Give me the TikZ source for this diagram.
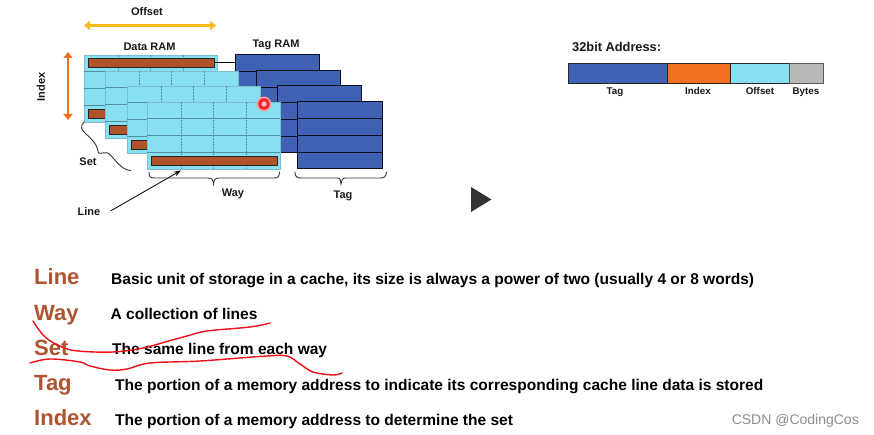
\documentclass[tikz,border=0pt]{standalone}
\usepackage{fontspec}
\setmainfont{Liberation Sans}
\usetikzlibrary{arrows.meta,calc}
\definecolor{cyanfill}{HTML}{88DFF0}
\definecolor{cyanedge}{HTML}{7CBFD2}
\definecolor{gridc}{HTML}{4F8FA2}
\definecolor{tagblue}{HTML}{3F62B5}
\definecolor{barbrown}{HTML}{B0532A}
\definecolor{headc}{HTML}{AD5430}
\definecolor{yellowa}{HTML}{F7BC1B}
\definecolor{orangea}{HTML}{F36F21}
\definecolor{graybyte}{HTML}{B8B6B8}
\definecolor{inkred}{HTML}{F01018}
\tikzset{
  panel/.style={draw=cyanedge,line width=0.9pt,fill=cyanfill,minimum width=133pt,minimum height=67pt,anchor=north west,inner sep=0pt,outer sep=0pt},
  tagbox/.style={draw=black!85!tagblue,line width=1pt,fill=tagblue,minimum width=84.5pt,minimum height=67pt,anchor=north west,inner sep=0pt,outer sep=0pt},
  linebar/.style={draw=black!85,line width=0.9pt,fill=barbrown,minimum width=126pt,minimum height=9.5pt,anchor=north west,inner sep=0pt,outer sep=0pt},
  seg/.style={draw=black!85,line width=0.9pt,minimum height=19.5pt,anchor=north west,inner sep=0pt,outer sep=0pt},
  small/.style={font=\fontsize{11}{13}\bfseries\selectfont,inner sep=0pt,text=black!90},
  addr/.style={font=\fontsize{9.8}{12}\bfseries\selectfont,inner sep=0pt,text=black!90,anchor=base},
  head/.style={font=\fontsize{22}{26}\bfseries\selectfont,inner sep=0pt,anchor=base west,text=headc},
  body/.style={font=\fontsize{15.53}{18}\bfseries\selectfont,inner sep=0pt,anchor=base west,text=black},
  brace/.style={draw=black!80,line width=0.9pt,line cap=round},
  ink/.style={draw=inkred,line width=1.4pt,line cap=round,line join=round},
  dbl/.style={line width=2.4pt,{Triangle[length=6pt,width=9pt]}-{Triangle[length=6pt,width=9pt]}}
}
\begin{document}
\begin{tikzpicture}[x=1pt,y=-1pt]
\useasboundingbox (0,0) rectangle (874,435);
\fill[white] (0,0) rectangle (874,435);
% stacked RAM panels, back to front
\foreach \i/\dx/\dy/\tx in {1/84/55/235,2/105/71/256,3/127/86/277,4/147/102/297.5}{
  \node[tagbox] (t\i) at (\tx,\dy) {};
  \foreach \r in {1,2,3}
    \draw[black!85!tagblue,line width=1pt] ($(t\i.north west)+(0,\r*16.75)$) -- ($(t\i.north east)+(0,\r*16.75)$);
  \node[panel] (d\i) at (\dx,\dy) {};
  \foreach \r in {1,2,3}
    \draw[gridc,line width=0.6pt] ($(d\i.north west)+(0,\r*16.75)$) -- ($(d\i.north east)+(0,\r*16.75)$);
  \foreach \c in {34,66,99}
    \draw[gridc,line width=0.5pt,densely dotted] ($(d\i.north west)+(\c,0)$) -- ($(d\i.south west)+(\c,0)$);
  \node[linebar] (b\i) at ($(d\i.south west)+(4,-13)$) {};
}
\node[linebar] (top) at (88,58) {};
\draw[black,line width=0.8pt] (top.east) -- (t1.west |- top.east);
% pointer dot
\fill[inkred!40] (264,104) circle (7.4);
\fill[inkred!90] (264,104) circle (5.8);
\fill[white!75!red] (264,104) circle (2.6);
% arrows and labels
\coordinate (oa) at (84,25.5); \coordinate (ob) at (216,25.5);
\draw[dbl,yellowa] (oa) -- (ob);
\coordinate (ia) at (68,52); \coordinate (ib) at (68,120);
\draw[dbl,orangea] (ia) -- (ib);
\node[small] (lOffset) at (147,12) {Offset};
\node[small] (lData) at (149.5,46.5) {Data RAM};
\node[small] (lTag) at (276,45) {Tag RAM};
\node[small,rotate=90] (lIndex) at (41,87) {Index};
\node[small] (lSet) at (88,162) {Set};
\node[small] (lWay) at (233,194) {Way};
\node[small] (lTagb) at (343,195.5) {Tag};
\node[small] (lLine) at (89,212) {Line};
\coordinate (lineTip) at (181,170.5);
\draw[black,line width=0.8pt,-{Stealth[length=7pt,width=5pt]}] (lLine.east)++(10,-1) -- (lineTip);
% braces
\draw[brace] (149,172) .. controls (149,177) and (150,178) .. (155,178) -- (208,178) .. controls (212,178) and (213,180) .. (213.5,184) .. controls (214,180) and (215,178) .. (219,178) -- (274,178) .. controls (278,178) and (279,177) .. (279.5,172);
\draw[brace] (295,172) .. controls (295,177) and (297,178) .. (302,178) -- (337,178) .. controls (341,178) and (340,180) .. (341,184) .. controls (342,180) and (342,178) .. (346,178) -- (380,178) .. controls (384,178) and (386,177) .. (386.5,172);
\draw[brace] (84,122) .. controls (80,126) and (81,130) .. (86,134) .. controls (92,139) and (97,144) .. (98.5,153) .. controls (100,154) and (104,152) .. (108,153) .. controls (114,157) and (120,170) .. (131,170.5);
% address bar
\node[small,anchor=base west,font=\fontsize{12.8}{15}\bfseries\selectfont] (aT) at (572,51.5) {32bit Address:};
\node[seg,fill=tagblue,minimum width=99pt] (aTag) at (568.5,63.5) {};
\node[seg,fill=orangea,minimum width=63pt] (aIdx) at (aTag.north east) {};
\node[seg,fill=cyanfill,minimum width=59pt] (aOff) at (aIdx.north east) {};
\node[seg,fill=graybyte,minimum width=34pt,draw=black!65] (aByt) at (aOff.north east) {};
\node[addr] (lA1) at (615,95) {Tag};
\node[addr] (lA2) at (698,95) {Index};
\node[addr] (lA3) at (760,95) {Offset};
\node[addr] (lA4) at (806,95) {Bytes};
% play glyph
\fill[black!80] (471,187) -- (491.5,199.5) -- (471,212) -- cycle;
% definitions
\node[head] (h1) at (34,284) {Line};
\node[body] (b1t) at (111,284.5) {Basic unit of storage in a cache, its size is always a power of two (usually 4 or 8 words)};
\node[head] (h2) at (34,320) {Way};
\node[body] (b2t) at (110.5,319.5) {A collection of lines};
\node[head] (h3) at (34,355) {Set};
\node[body] (b3t) at (112,354.5) {The same line from each way};
\node[head] (h4) at (34,390) {Tag};
\node[body] (b4t) at (115,390) {The portion of a memory address to indicate its corresponding cache line data is stored};
\node[head] (h5) at (34,425) {Index};
\node[body] (b5t) at (115,425.5) {The portion of a memory address to determine the set};
% handwriting
\draw[ink] plot[smooth,tension=0.6] coordinates {(33,321) (45,337) (62,347) (78,351) (113,352) (143,348) (165,342) (187,336) (207,331) (250,327) (270,323)};
\draw[ink] plot[smooth,tension=0.6] coordinates {(30,363) (50,359) (80,362) (90,366) (110,370) (127,369) (150,363) (200,361) (267,356) (287,356) (300,364) (313,372) (333,375) (342,373)};
% watermark
\node[font=\fontsize{14}{16}\selectfont,text=black!45,inner sep=0pt,anchor=base east] (wm) at (859,424) {CSDN @CodingCos};
\end{tikzpicture}
\end{document}
